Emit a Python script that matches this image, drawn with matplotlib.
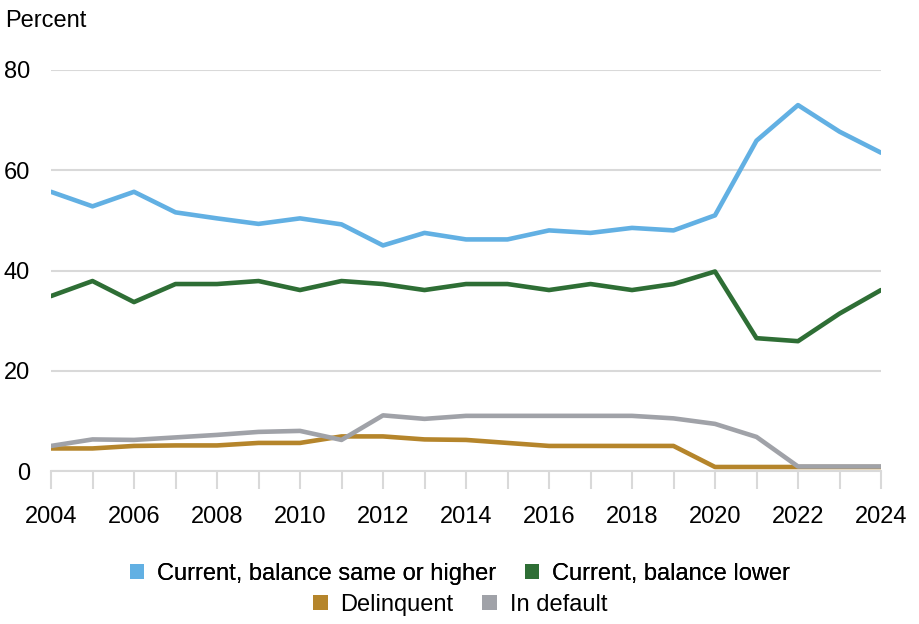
import matplotlib
matplotlib.use('Agg')
import matplotlib.pyplot as plt
from matplotlib.patches import Patch
import numpy as np

plt.rcParams['font.family'] = ['Liberation Sans', 'DejaVu Sans']

# Jahre und Anteile (Prozent)
years = list(range(2004, 2025))
same_or_higher = [55.7, 52.8, 55.7, 51.6, 50.4, 49.3, 50.4, 49.2, 45.0, 47.5, 46.2,
                  46.2, 48.0, 47.5, 48.5, 48.0, 51.0, 65.9, 73.0, 67.7, 63.5]
balance_lower = [34.9, 37.9, 33.7, 37.3, 37.3, 37.9, 36.1, 37.9, 37.3, 36.1, 37.3,
                 37.3, 36.1, 37.3, 36.1, 37.3, 39.8, 26.5, 25.9, 31.4, 36.1]
delinquent = [4.5, 4.5, 5.0, 5.1, 5.1, 5.6, 5.6, 6.9, 6.9, 6.3, 6.2,
              5.6, 5.0, 5.0, 5.0, 5.0, 0.8, 0.8, 0.8, 0.8, 0.8]
in_default = [5.0, 6.3, 6.2, 6.7, 7.2, 7.8, 8.0, 6.2, 11.1, 10.4, 11.0,
              11.0, 11.0, 11.0, 11.0, 10.5, 9.4, 6.8, 0.9, 0.9, 0.9]

labels = ['Current, balance same or higher', 'Current, balance lower', 'Delinquent', 'In default']
colors = ['#62B0E3', '#2E6E35', '#B5852B', '#A0A2A8']

fig = plt.figure(figsize=(9.2, 6.24), dpi=100)
ax = fig.add_axes([51 / 920, 1 - 471 / 624, 830 / 920, 401 / 624])

grid_c = '#D9D9D9'
for series, c in zip([same_or_higher, balance_lower, delinquent, in_default], colors):
    ax.plot(years, series, color=c, lw=3.3, solid_capstyle='round', solid_joinstyle='round', zorder=3)

ax.set_xlim(2004, 2024)
ax.set_ylim(0, 80)
ax.set_yticks([0, 20, 40, 60, 80])
ax.set_xticks(years, minor=True)
ax.set_xticks(range(2004, 2025, 2))
ax.yaxis.grid(True, color=grid_c, lw=1.5)
ax.set_axisbelow(True)

for s in ['top', 'right', 'left']:
    ax.spines[s].set_visible(False)
ax.spines['bottom'].set_color(grid_c)
ax.spines['bottom'].set_linewidth(1.5)

ax.tick_params(axis='y', length=0, pad=15, labelsize=17)
ax.tick_params(axis='x', which='both', length=13, width=1.5, color=grid_c, labelsize=17, pad=12)
ax.tick_params(axis='x', which='minor', labelbottom=False)

fig.text(5 / 920, 1 - 21 / 624, 'Percent', fontsize=17, ha='left', va='center')

# Legende in zwei Zeilen, jeweils zentriert
handles = [Patch(facecolor=c, edgecolor='none') for c in colors]
kw = dict(frameon=False, fontsize=17, handlelength=0.62, handleheight=0.62,
          handletextpad=0.55, columnspacing=1.2, borderaxespad=0, borderpad=0)
leg1 = fig.legend(handles[:2], labels[:2], loc='center', ncol=2,
                  bbox_to_anchor=(0.5, 1 - 574 / 624), **kw)
fig.add_artist(leg1)
fig.legend(handles[2:], labels[2:], loc='center', ncol=2,
           bbox_to_anchor=(0.5, 1 - 605 / 624), **kw)

fig.savefig('out.png', dpi=100)
